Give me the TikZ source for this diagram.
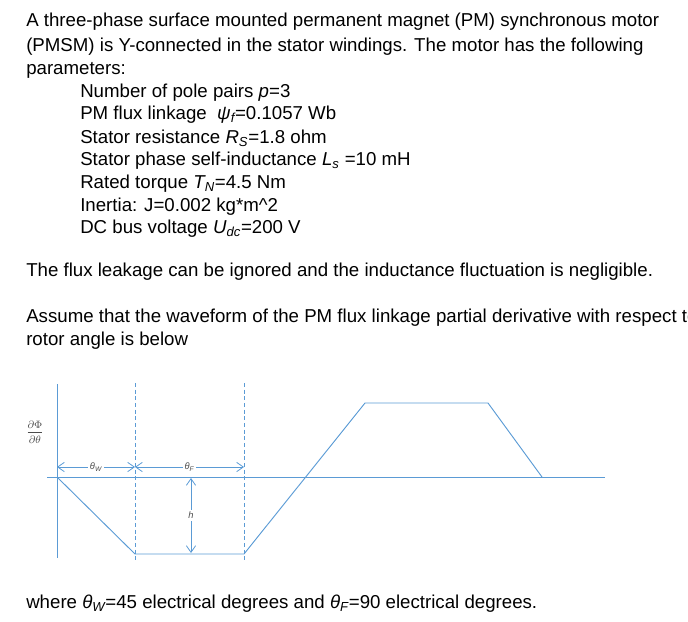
\documentclass[tikz,border=0pt]{standalone}
\usepackage{fontspec}
\setmainfont{Liberation Sans}
\usetikzlibrary{arrows.meta}
\definecolor{lb}{RGB}{91,155,213}
\newcommand{\sbs}[1]{\textsubscript{#1}}
\begin{document}
\begin{tikzpicture}[x=0.75pt,y=-0.75pt,
  txt/.style={anchor=west,inner sep=0pt,font=\fontsize{14}{16}\selectfont},
  ln/.style={lb,line width=0.7pt},
  dsh/.style={lb,densely dashed,line width=0.5pt},
  dim/.style={lb,line width=0.6pt,{Straight Barb[length=5pt,width=7pt]}-{Straight Barb[length=5pt,width=7pt]}},
  sm/.style={font=\fontsize{7}{8}\selectfont\itshape,text=black!70,fill=white,inner sep=1.5pt}]
\useasboundingbox (0,0) rectangle (688,621);
\node[txt] (l1) at (26,22) {A three-phase surface mounted permanent magnet (PM) synchronous motor};
\node[txt] (l2) at (26,47) {(PMSM) is Y-connected in the stator windings. The motor has the following};
\node[txt] (l3) at (26,70) {parameters:};
\node[txt] (p1) at (80,93) {Number of pole pairs \textit{p}=3};
\node[txt] (p2) at (80,115) {PM flux linkage \ \textit{ψ\sbs{f}}=0.1057 Wb};
\node[txt] (p3) at (80,138) {Stator resistance \textit{R\sbs{S}}=1.8 ohm};
\node[txt] (p4) at (80,161) {Stator phase self-inductance \textit{L\sbs{s}} =10 mH};
\node[txt] (p5) at (80,184) {Rated torque \textit{T\sbs{N}}=4.5 Nm};
\node[txt] (p6) at (80,207) {Inertia: J=0.002 kg*m\^{}2};
\node[txt] (p7) at (80,229) {DC bus voltage \textit{U\sbs{dc}}=200 V};
\node[txt] (l4) at (26,272) {The flux leakage can be ignored and the inductance fluctuation is negligible.};
\node[txt] (l5) at (26,318) {Assume that the waveform of the PM flux linkage partial derivative with respect to};
\node[txt] (l6) at (26,341) {rotor angle is below};
\node[txt] (l7) at (26,604) {where \textit{θ\sbs{W}}=45 electrical degrees and \textit{θ\sbs{F}}=90 electrical degrees.};
% graph
\coordinate (o) at (57,477);
\coordinate (a) at (135,554);
\coordinate (b) at (244,554);
\coordinate (c) at (365,403);
\coordinate (d) at (488,403);
\coordinate (e) at (542,477);
\draw[ln] (57,384) -- (57,558);
\draw[ln] (47,477) -- (605,477);
\draw[dsh] (135,383) -- (135,560);
\draw[dsh] (244,383) -- (244,560);
\draw[ln] (o) -- (a) -- (b) -- (c) -- (d) -- (e);
\draw[dim] (57,467) -- node[sm]{θ\sbs{W}} (135,467);
\draw[dim] (135,467) -- node[sm]{θ\sbs{F}} (244,467);
\draw[dim] (191,478) -- node[sm]{h} (191,553);
\node[font=\fontsize{8}{9}\selectfont,text=black!70,inner sep=0pt] (dd) at (35,432) {$\displaystyle\frac{\partial\Phi}{\partial\theta}$};
\end{tikzpicture}
\end{document}
